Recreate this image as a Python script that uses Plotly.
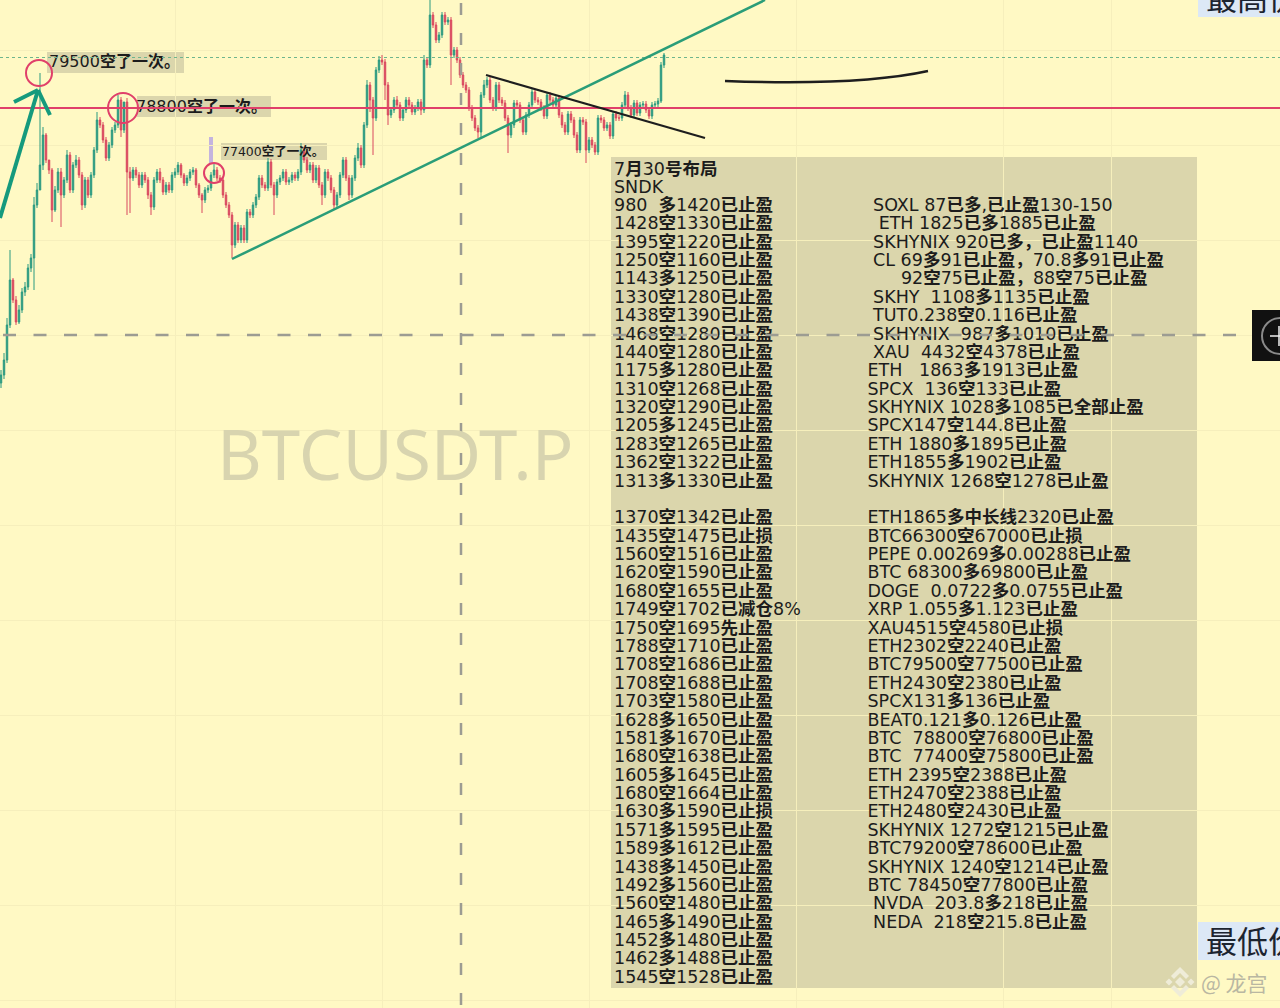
import re
import plotly.graph_objects as go

# candles, one every 3 px on the page
opens = [
    73300,73460,73760,74460,75360,74960,74520,74760,75120,75220,
    75600,75800,76860,77160,77660,78260,77760,77560,76760,77160,
    77520,77060,77360,77860,77160,77660,77760,77460,76860,77360,
    77060,77460,77960,78560,78460,78160,77800,78060,78360,78460,
    78960,78360,78920,77520,77400,77560,77460,77260,77460,77360,
    77060,76820,77360,77520,77360,77120,77260,77160,77460,77520,
    77660,77460,77300,77400,77520,77560,77260,77060,76960,77160,
    77200,77460,77560,77400,77360,77060,76860,76660,76060,76460,
    76160,76400,76160,76720,76660,76860,77020,77400,77260,77200,
    77720,77260,77060,77320,77400,77520,77320,77360,77460,77400,
    77520,77960,77760,77560,77660,77360,77600,77260,77060,77520,
    77400,77160,76860,77060,77460,77760,77400,77060,77400,77800,
    78000,77660,78460,79260,78960,78600,79560,79760,79720,79260,
    78660,78760,78960,78860,78600,78760,78960,78860,78720,78800,
    78920,78760,79760,79660,80660,80460,80160,80260,80660,80520,
    80560,79860,79960,79760,79460,79260,79160,78800,78600,78400,
    78320,79060,79260,79360,78960,78800,79260,78960,78900,78600,
    78260,78460,78900,78860,78560,78320,78660,78860,79120,78960,
    78920,78800,78640,79060,78960,78860,79000,78660,78460,78320,
    78680,78560,78260,77960,78560,78520,77960,78160,78060,77920,
    78600,78560,78400,78460,78240,78680,78600,78600,78860,79060,
    78800,78660,78900,78700,78860,78880,78760,78640,78860,78880,
    78940,79660]
highs = [
    73560,73900,74600,75960,75400,75040,74860,75200,75320,75680,
    75880,77020,77300,79500,78420,78300,77660,77600,77240,77600,
    77600,77420,77960,77920,77720,77860,77820,77520,77420,77420,
    77520,78020,78720,78620,78520,78220,78120,78420,78520,79060,
    79020,78420,79000,77620,77620,77620,77520,77520,77520,77420,
    77120,77420,77580,77600,77420,77320,77320,77520,77600,77720,
    77700,77500,77460,77580,77620,77600,77300,77100,77220,77260,
    77520,77700,77620,77460,77420,77120,76920,76720,76520,76520,
    76460,76460,76780,76780,76920,77080,77460,77460,77320,77800,
    77780,77320,77380,77460,77580,77580,77420,77520,77520,77580,
    78100,78020,77820,77720,77720,77660,77660,77320,77580,77580,
    77460,77220,77120,77520,77820,77820,77460,77460,77860,78100,
    78060,78520,79360,79320,79020,79620,79840,79860,79780,79320,
    78820,79020,79040,78920,78820,79020,79020,78920,78860,78980,
    78980,79860,79800,81060,80720,80520,80320,80720,80720,80620,
    80620,80020,80020,79820,79520,79320,79220,78860,78660,78460,
    79120,79360,79420,79420,79020,79320,79320,79020,78960,78660,
    78520,78960,78960,78920,78620,78720,78920,79180,79180,79020,
    78980,78860,79120,79120,79020,79060,79060,78720,78520,78740,
    78740,78620,78320,78620,78620,78580,78220,78220,78120,78660,
    78660,78620,78520,78520,78740,78740,78660,78920,79140,79120,
    78860,78960,78960,78920,78940,78940,78820,78920,78940,79000,
    79720,79900]
lows = [
    73200,73380,73700,74400,74900,74460,74480,74700,75040,75160,
    75520,75160,76800,77160,77560,77700,77480,76520,76720,77100,
    76420,77000,77300,77100,77100,77600,77400,76760,76800,77000,
    77000,77400,77900,78400,78100,77740,77740,78000,78300,78400,
    78220,78300,76660,76700,77340,77400,77200,77200,77300,76980,
    76660,76760,77300,77300,77060,77060,77100,77100,77400,77460,
    77400,77240,77240,77340,77460,77200,77000,76700,76900,77100,
    77140,77400,77340,77300,77000,76800,76600,75800,76000,76100,
    76100,76100,76100,76600,76600,76800,76960,77200,77140,77140,
    77200,76660,77000,77260,77340,77260,77260,77300,77340,77340,
    77460,77700,77500,77500,77300,77300,77200,76860,77000,77340,
    77100,76760,76800,77000,77400,77340,76960,77000,77340,77740,
    77600,77600,78400,78720,77860,78540,79500,79660,78960,78460,
    78600,78700,78800,78540,78540,78700,78800,78660,78660,78740,
    78660,78700,79600,79600,80400,80100,80100,80200,80460,80460,
    79260,79800,79700,79400,79200,79100,78740,78540,78340,78200,
    78200,79000,79200,78900,78740,78740,78900,78840,78540,77900,
    78200,78400,78800,78500,78260,78260,78600,78800,78900,78860,
    78740,78580,78580,78900,78800,78800,78600,78400,78260,78260,
    78500,78200,77900,77900,78460,77700,77900,78000,77860,77860,
    78500,78340,78340,78180,78180,78540,78540,78540,78800,78740,
    78600,78600,78640,78640,78800,78700,78580,78580,78800,78820,
    78900,79600]
closes = [
    73460,73760,74460,75360,74960,74520,74760,75120,75220,75600,
    75800,76860,77160,77660,78260,77760,77560,76760,77160,77520,
    77060,77360,77860,77160,77660,77760,77460,76860,77360,77060,
    77460,77960,78560,78460,78160,77800,78060,78360,78460,78960,
    78360,78920,77520,77400,77560,77460,77260,77460,77360,77060,
    76820,77360,77520,77360,77120,77260,77160,77460,77520,77660,
    77460,77300,77400,77520,77560,77260,77060,76960,77160,77200,
    77460,77560,77400,77360,77060,76860,76660,76060,76460,76160,
    76400,76160,76720,76660,76860,77020,77400,77260,77200,77720,
    77260,77060,77320,77400,77520,77320,77360,77460,77400,77520,
    77960,77760,77560,77660,77360,77600,77260,77060,77520,77400,
    77160,76860,77060,77460,77760,77400,77060,77400,77800,78000,
    77660,78460,79260,78960,78600,79560,79760,79720,79260,78660,
    78760,78960,78860,78600,78760,78960,78860,78720,78800,78920,
    78760,79760,79660,80660,80460,80160,80260,80660,80520,80560,
    79860,79960,79760,79460,79260,79160,78800,78600,78400,78320,
    79060,79260,79360,78960,78800,79260,78960,78900,78600,78260,
    78460,78900,78860,78560,78320,78660,78860,79120,78960,78920,
    78800,78640,79060,78960,78860,79000,78660,78460,78320,78680,
    78560,78260,77960,78560,78520,77960,78160,78060,77920,78600,
    78560,78400,78460,78240,78680,78600,78600,78860,79060,78800,
    78660,78900,78700,78860,78880,78760,78640,78860,78880,78940,
    79660,79860]

grid_prices = [79960,78060,76160,74260,72360,70460,68560,66660,64760,62860,60960]
grid_bars = [58.33,127.33,196.33,265.33,334.33,370.33]

resistance = 78800
dotted_level = 79810
trend_up_bars = [77, 254.67]
trend_up_prices = [75780, 80960]
trend_down_bars = [161.67, 234.67]
trend_down_prices = [79460, 78200]
entry_bars = [12.67, 40.67, 71]
entry_prices = [79500, 78800, 77500]
entry_radius = [13, 15, 10]

title_rows = ["7月30号布局", "SNDK"]
left_rows = [
    "980  多1420已止盈", "1428空1330已止盈", "1395空1220已止盈", "1250空1160已止盈",
    "1143多1250已止盈", "1330空1280已止盈", "1438空1390已止盈", "1468空1280已止盈",
    "1440空1280已止盈", "1175多1280已止盈", "1310空1268已止盈", "1320空1290已止盈",
    "1205多1245已止盈", "1283空1265已止盈", "1362空1322已止盈", "1313多1330已止盈",
    "", "1370空1342已止盈", "1435空1475已止损", "1560空1516已止盈", "1620空1590已止盈",
    "1680空1655已止盈", "1749空1702已减仓8%", "1750空1695先止盈", "1788空1710已止盈",
    "1708空1686已止盈", "1708空1688已止盈", "1703空1580已止盈", "1628多1650已止盈",
    "1581多1670已止盈", "1680空1638已止盈", "1605多1645已止盈", "1680空1664已止盈",
    "1630多1590已止损", "1571多1595已止盈", "1589多1612已止盈", "1438多1450已止盈",
    "1492多1560已止盈", "1560空1480已止盈", "1465多1490已止盈", "1452多1480已止盈",
    "1462多1488已止盈", "1545空1528已止盈"]
right_rows = [
    " SOXL 87已多,已止盈130-150", "  ETH 1825已多1885已止盈", " SKHYNIX 920已多，已止盈1140",
    " CL 69多91已止盈，70.8多91已止盈", "      92空75已止盈，88空75已止盈", " SKHY  1108多1135已止盈",
    " TUT0.238空0.116已止盈", " SKHYNIX  987多1010已止盈", " XAU  4432空4378已止盈",
    "ETH   1863多1913已止盈", "SPCX  136空133已止盈", "SKHYNIX 1028多1085已全部止盈",
    "SPCX147空144.8已止盈", "ETH 1880多1895已止盈", "ETH1855多1902已止盈", "SKHYNIX 1268空1278已止盈",
    "", "ETH1865多中长线2320已止盈", "BTC66300空67000已止损", "PEPE 0.00269多0.00288已止盈",
    "BTC 68300多69800已止盈", "DOGE  0.0722多0.0755已止盈", "XRP 1.055多1.123已止盈",
    "XAU4515空4580已止损", "ETH2302空2240已止盈", "BTC79500空77500已止盈", "ETH2430空2380已止盈",
    "SPCX131多136已止盈", "BEAT0.121多0.126已止盈", "BTC  78800空76800已止盈", "BTC  77400空75800已止盈",
    "ETH 2395空2388已止盈", "ETH2470空2388已止盈", "ETH2480空2430已止盈", "SKHYNIX 1272空1215已止盈",
    "BTC79200空78600已止盈", "SKHYNIX 1240空1214已止盈", "BTC 78450空77800已止盈",
    " NVDA  203.8多218已止盈", " NEDA  218空215.8已止盈"]

W, H = 1280, 1008
BG = "#FFF9C4"
PANEL = "#DBD6AC"
GREEN = "#2A9D78"
PINK = "#E0406A"
FONT = "DejaVu Sans, Noto Sans CJK SC"


def bar_of(px):
    return (px - 1) / 3


def price_of(py):
    return 80960 - 20 * py


def bold_cjk(text):
    # the chinese characters read heavier than the digits in the picture
    return re.sub(r"([\u3000-\u9fff\uff00-\uffef]+)", r"<b>\1</b>", text)


def page_rect(x0, y0, x1, y1, color, layer="below"):
    return dict(type="rect", xref="paper", yref="paper", x0=x0 / W, x1=x1 / W,
                y0=1 - y0 / H, y1=1 - y1 / H, fillcolor=color, line_width=0, layer=layer)


def page_line(x0, y0, x1, y1, color, width, dash="solid"):
    return dict(type="line", xref="paper", yref="paper", x0=x0 / W, x1=x1 / W,
                y0=1 - y0 / H, y1=1 - y1 / H, line=dict(color=color, width=width, dash=dash))


def note(x, y, text, size, color="#222222", family=FONT):
    return dict(xref="paper", yref="paper", x=x / W, y=1 - y / H, text=text, showarrow=False,
                xanchor="left", yanchor="middle", font=dict(size=size, color=color, family=family))


def diamond(cx, cy, rx, ry, color):
    pts = [(cx, cy - ry), (cx + rx, cy), (cx, cy + ry), (cx - rx, cy)]
    path = "M" + " L".join(f"{x / W:.5f},{1 - y / H:.5f}" for x, y in pts) + " Z"
    return dict(type="path", xref="paper", yref="paper", path=path, fillcolor=color, line_width=0)


fig = go.Figure()
fig.add_trace(go.Candlestick(
    x=list(range(len(closes))), open=opens, high=highs, low=lows, close=closes,
    whiskerwidth=0, hoverinfo="skip", showlegend=False,
    increasing=dict(line=dict(color="#2B9A80", width=1), fillcolor="#2B9A80"),
    decreasing=dict(line=dict(color="#D9485F", width=1), fillcolor="#D9485F")))

# table text goes in a trace so the dashed line can run over it
rows = [(614, 170.5, title_rows[0], 17.5), (614, 188.5, title_rows[1], 17.5)]
for i, t in enumerate(left_rows):
    rows.append((614, 206.5 + i * 18.38, t, 17.5))
for i, t in enumerate(right_rows):
    rows.append((867.5, 206.5 + i * 18.38, t, 17.5))
rows += [(49, 63, "79500空了一次。", 16), (136, 108, "78800空了一次。", 16), (222, 153, "77400空了一次。", 12.5)]
fig.add_trace(go.Scatter(
    x=[bar_of(r[0]) for r in rows], y=[price_of(r[1]) for r in rows], text=[bold_cjk(r[2]) for r in rows],
    mode="text", textposition="middle right", hoverinfo="skip", showlegend=False, cliponaxis=False,
    textfont=dict(family=FONT, size=[r[3] for r in rows], color="#1c1c1c")))

shapes = [
    page_rect(611, 157, 1197, 988, PANEL),
    page_rect(47, 52, 184, 73, PANEL),
    page_rect(137, 96, 271, 117, PANEL),
    page_rect(221, 143, 327, 160, PANEL),
    page_rect(209, 137, 213, 163, "#C4B4DE"),
    page_rect(1198, 922, 1280, 960, "#DCE8F6"),
    page_rect(1198, 0, 1280, 17, "#DCE8F6"),
    # gray crosshair
    page_line(461, 3, 461, 1008, "#9C9C92", 2.5, "12px,18px"),
    page_line(3, 335, 1252, 335, "#9C9C92", 2.5, "13px,17.5px"),
    # levels and trend lines
    dict(type="line", xref="paper", x0=0, x1=1, yref="y", y0=dotted_level, y1=dotted_level,
         line=dict(color="#6FB58C", width=1, dash="dot")),
    dict(type="line", xref="paper", x0=0, x1=1, yref="y", y0=resistance, y1=resistance,
         line=dict(color=PINK, width=2)),
    dict(type="line", xref="x", yref="y", x0=trend_up_bars[0], x1=trend_up_bars[1],
         y0=trend_up_prices[0], y1=trend_up_prices[1], line=dict(color=GREEN, width=2.5)),
    dict(type="line", xref="x", yref="y", x0=trend_down_bars[0], x1=trend_down_bars[1],
         y0=trend_down_prices[0], y1=trend_down_prices[1], line=dict(color="#1e1e1e", width=2.2)),
    # hand drawn stroke and arrow
    dict(type="path", xref="paper", yref="paper",
         path=f"M{725 / W},{1 - 81 / H} Q{860 / W},{1 - 86 / H} {928 / W},{1 - 71 / H}",
         line=dict(color="#1e1e1e", width=2.4)),
    page_line(0, 218, 38, 90, "#159A7D", 4),
    page_line(14, 102, 38, 90, "#159A7D", 4),
    page_line(38, 90, 50, 115, "#159A7D", 4),
    # crosshair plus button
    page_rect(1252, 310, 1280, 361, "#111111", "above"),
    dict(type="circle", xref="paper", yref="paper", x0=1262 / W, x1=1298 / W, y0=1 - 318 / H, y1=1 - 354 / H,
         line=dict(color="#8a8a8a", width=2)),
    page_line(1270, 336, 1280, 336, "#f0f0f0", 1.5),
    page_line(1279, 326, 1279, 346, "#f0f0f0", 1.5),
    # exchange logo
    diamond(1180, 982, 5, 5, "#EFECD8"),
    diamond(1169, 982, 3.5, 3.5, "#EFECD8"),
    diamond(1191, 982, 3.5, 3.5, "#EFECD8"),
    dict(type="path", xref="paper", yref="paper", fillcolor="#EFECD8", line_width=0,
         path="M" + " L".join(f"{x / W:.5f},{1 - y / H:.5f}" for x, y in
                              [(1180, 967), (1189, 976), (1186, 979), (1180, 973), (1174, 979), (1171, 976)]) + " Z"),
    dict(type="path", xref="paper", yref="paper", fillcolor="#EFECD8", line_width=0,
         path="M" + " L".join(f"{x / W:.5f},{1 - y / H:.5f}" for x, y in
                              [(1180, 997), (1189, 988), (1186, 985), (1180, 991), (1174, 985), (1171, 988)]) + " Z"),
]
for bar, price, r in zip(entry_bars, entry_prices, entry_radius):
    shapes.append(dict(type="circle", xref="x", yref="y", xsizemode="pixel", ysizemode="pixel",
                       xanchor=bar, yanchor=price, x0=-r, x1=r, y0=-r, y1=r,
                       line=dict(color=PINK, width=2)))

annotations = [
    note(215, 453, "BTCUSDT.P", 69, "#D8D4AF", "Noto Sans"),
    note(1204, 939, "最低价", 31, "#1c2430", "Noto Sans CJK SC"),
    note(1204, -4, "最高价", 31, "#1c2430", "Noto Sans CJK SC"),
    note(1199, 982, "@ 龙宫", 21, "#B9B7A2", "Noto Sans CJK SC"),
]

fig.update_layout(
    width=W, height=H, margin=dict(l=0, r=0, t=0, b=0),
    paper_bgcolor=BG, plot_bgcolor=BG, showlegend=False,
    shapes=shapes, annotations=annotations,
    xaxis=dict(range=[bar_of(0), bar_of(W)], rangeslider_visible=False, tickmode="array", tickvals=grid_bars,
               showticklabels=False, ticks="", gridcolor="#F6EFBC", gridwidth=1, zeroline=False, showline=False),
    yaxis=dict(range=[price_of(H), price_of(0)], tickmode="array", tickvals=grid_prices,
               showticklabels=False, ticks="", gridcolor="#F6EFBC", gridwidth=1, zeroline=False, showline=False),
)
# drop the browser's default body margin so the chart fills the window
fig.write_html("out.html", config=dict(displayModeBar=False),
               post_script="document.body.style.margin='0';document.documentElement.style.overflow='hidden';")
